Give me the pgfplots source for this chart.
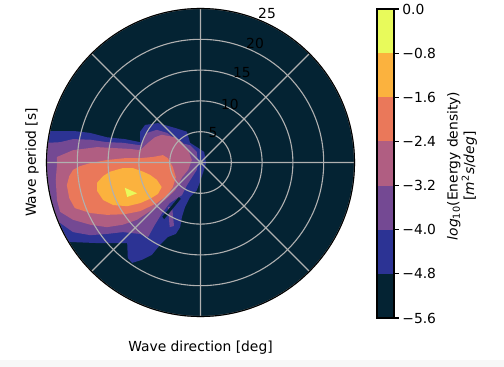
\documentclass[border=0pt]{standalone}
\usepackage{pgfplots}
\pgfplotsset{compat=1.18}
\usepgfplotslibrary{polar}
\usepackage{fontspec}
\setmainfont{DejaVu Sans}
\definecolor{c0}{RGB}{4,35,51}
\definecolor{c1}{RGB}{44,51,148}
\definecolor{c2}{RGB}{116,73,147}
\definecolor{c3}{RGB}{176,94,130}
\definecolor{c4}{RGB}{234,120,90}
\definecolor{c5}{RGB}{251,178,62}
\definecolor{c6}{RGB}{232,250,91}
\definecolor{gridgray}{RGB}{176,176,176}
\begin{document}
\begin{tikzpicture}[font=\fontsize{13.9}{16.7}\selectfont]
\path[use as bounding box] (0,0) rectangle (504bp,367bp);
\fill[color={rgb,255:red,247;green,247;blue,247}] (0,0) rectangle (504bp,7bp);
\begin{polaraxis}[
  at={(200.5bp,204.5bp)}, anchor=center,
  width=308bp, height=308bp, scale only axis,
  xmin=0, xmax=360, ymin=0, ymax=25,
  xtick={0,45,...,315}, xticklabels={},
  ytick={5,10,15,20,25}, yticklabels={},
  major tick length=0pt,
  grid=major,
  major grid style={draw=gridgray, line width=1.1bp},
  separate axis lines,
  x axis line style={black, line width=1.1bp},
  y axis line style={draw=none},
  axis on top,
  axis background/.style={fill=c0},
  clip=true,
  every axis plot/.append style={draw=none, mark=none},
]
% level >= -4.8
\addplot[data cs=cart, fill=c1] coordinates {
(-27.7,5.1) (-22.8,5.1) (-20.4,5.1) (-17.9,4.8) (-15.2,4.1) (-12.3,3.8) (-9.8,3.3)
(-9.8,5.0) (-9.0,6.1) (-6.9,6.4) (-4.1,5.6) (-2.2,5.0) (-1.7,3.2) (-0.6,2.5)
(0.6,1.7) (0.9,-0.1) (0.4,-1.7) (-0.1,-3.2) (-0.6,-4.5) (-1.7,-5.6) (-2.5,-7.2)
(-3.0,-8.8) (-3.3,-10.5) (-4.0,-11.6) (-5.3,-12.1) (-6.6,-13.4) (-7.9,-15.0)
(-9.5,-15.8) (-11.1,-16.3)
(-11.8,-15.5) (-11.9,-13.1) (-16.3,-13.1) (-21.3,-12.9) (-27.7,-12.9)
};
% level >= -4.0
\addplot[data cs=cart, fill=c2] coordinates {
(-27.7,3.2) (-24.8,3.2) (-22.8,3.3) (-20.7,3.8) (-17.9,3.7) (-15.2,3.3) (-12.6,3.2)
(-9.8,2.8) (-8.7,4.8) (-7.1,5.3) (-5.4,4.8) (-4.5,4.1) (-3.3,3.2) (-1.7,2.8)
(-0.6,1.7) (-0.4,-0.1) (-0.6,-1.2) (-1.5,-2.6) (-2.2,-3.7) (-3.0,-5.3) (-5.0,-6.6)
(-6.1,-8.0) (-7.4,-10.1) (-8.5,-12.1) (-9.8,-11.6) (-12.6,-11.3) (-15.2,-11.6)
(-17.9,-11.8) (-20.7,-11.3) (-22.8,-9.8) (-27.7,-9.3)
};
\addplot[data cs=cart, fill=c2] coordinates {
(-5.3,-7.2) (-4.6,-7.2) (-4.3,-10.3) (-5.0,-10.5)
};
% level >= -3.2
\addplot[data cs=cart, fill=c3] coordinates {
(-23.3,0.9) (-20.7,2.0) (-16.8,2.5) (-11.4,2.2) (-9.8,2.0) (-8.5,3.2) (-7.4,4.1)
(-6.3,4.5) (-4.1,4.1) (-3.0,3.3) (-2.0,2.0) (-1.4,0.4) (-2.0,-1.2) (-3.0,-2.4)
(-4.1,-4.5) (-5.8,-6.1) (-7.9,-7.7) (-10.3,-9.3) (-12.6,-10.1) (-15.2,-10.5)
(-17.9,-10.1) (-20.7,-9.3) (-22.8,-8.0) (-23.3,-6.1) (-23.5,-2.8) (-23.3,-0.4)
};
% level >= -2.4
\addplot[data cs=cart, fill=c4] coordinates {
(-20.7,-1.2) (-19.6,-0.6) (-17.9,-0.1) (-15.2,0.4) (-12.3,0.7) (-9.8,0.7) (-7.7,0.9)
(-6.1,1.2) (-5.3,0.7) (-4.5,-0.7) (-4.0,-2.4) (-4.5,-4.0) (-5.4,-5.3) (-7.1,-6.6)
(-9.8,-7.9) (-12.3,-8.4) (-15.2,-8.5) (-17.9,-8.2) (-20.4,-7.4) (-21.3,-5.8)
(-21.7,-3.7) (-21.3,-2.2)
};
% level >= -1.6
\addplot[data cs=cart, fill=c5] coordinates {
(-15.8,-2.2) (-14.7,-1.5) (-12.6,-0.9) (-11.0,-0.9) (-9.3,-1.5) (-8.2,-2.0) (-7.1,-2.8)
(-6.3,-4.0) (-6.9,-5.1) (-8.2,-5.9) (-9.8,-6.6) (-11.9,-7.1) (-14.2,-6.9) (-15.8,-6.1)
(-16.8,-4.6) (-16.8,-3.3)
};
% level >= -0.8
\addplot[data cs=cart, fill=c6] coordinates {
(-12.3,-4.1) (-10.3,-5.0) (-11.9,-5.6)
};
% low-energy gap
\addplot[data cs=cart, fill=c0] coordinates {
(-3.5,-5.6) (-3.2,-5.9) (-5.9,-9.2) (-6.2,-8.8)
};
\end{polaraxis}
\node at (213bp,234bp) {5};
\node at (230bp,263bp) {10};
\node at (242bp,294bp) {15};
\node at (255bp,324bp) {20};
\node at (267bp,354bp) {25};
\node[rotate=90] at (32bp,204.5bp) {Wave period [s]};
\node at (200.5bp,19bp) {Wave direction [deg]};
\begin{axis}[
  at={(377bp,49bp)}, anchor=south west,
  width=17bp, height=309bp, scale only axis,
  xmin=0, xmax=1, ymin=-5.6, ymax=0,
  xtick=\empty,
  ytick={-5.6,-4.8,-4.0,-3.2,-2.4,-1.6,-0.8,0},
  yticklabels={−5.6,−4.8,−4.0,−3.2,−2.4,−1.6,−0.8,0.0},
  ytick pos=right, yticklabel pos=right,
  tick align=outside, major tick length=4.9bp,
  tick style={black, line width=1.1bp},
  axis line style={black, line width=1.1bp},
  axis on top,
]
\addplot[fill=c0, draw=none, mark=none] coordinates {(0,-5.6) (1,-5.6) (1,-4.8) (0,-4.8)};
\addplot[fill=c1, draw=none, mark=none] coordinates {(0,-4.8) (1,-4.8) (1,-4.0) (0,-4.0)};
\addplot[fill=c2, draw=none, mark=none] coordinates {(0,-4.0) (1,-4.0) (1,-3.2) (0,-3.2)};
\addplot[fill=c3, draw=none, mark=none] coordinates {(0,-3.2) (1,-3.2) (1,-2.4) (0,-2.4)};
\addplot[fill=c4, draw=none, mark=none] coordinates {(0,-2.4) (1,-2.4) (1,-1.6) (0,-1.6)};
\addplot[fill=c5, draw=none, mark=none] coordinates {(0,-1.6) (1,-1.6) (1,-0.8) (0,-0.8)};
\addplot[fill=c6, draw=none, mark=none] coordinates {(0,-0.8) (1,-0.8) (1,0) (0,0)};
\end{axis}
\node[rotate=90, align=center] at (462bp,201bp) {\textit{log}\textsubscript{10}(Energy density)\\{}[\textit{m}\textsuperscript{2}\textit{s}/\textit{deg}]};
\end{tikzpicture}
\end{document}
